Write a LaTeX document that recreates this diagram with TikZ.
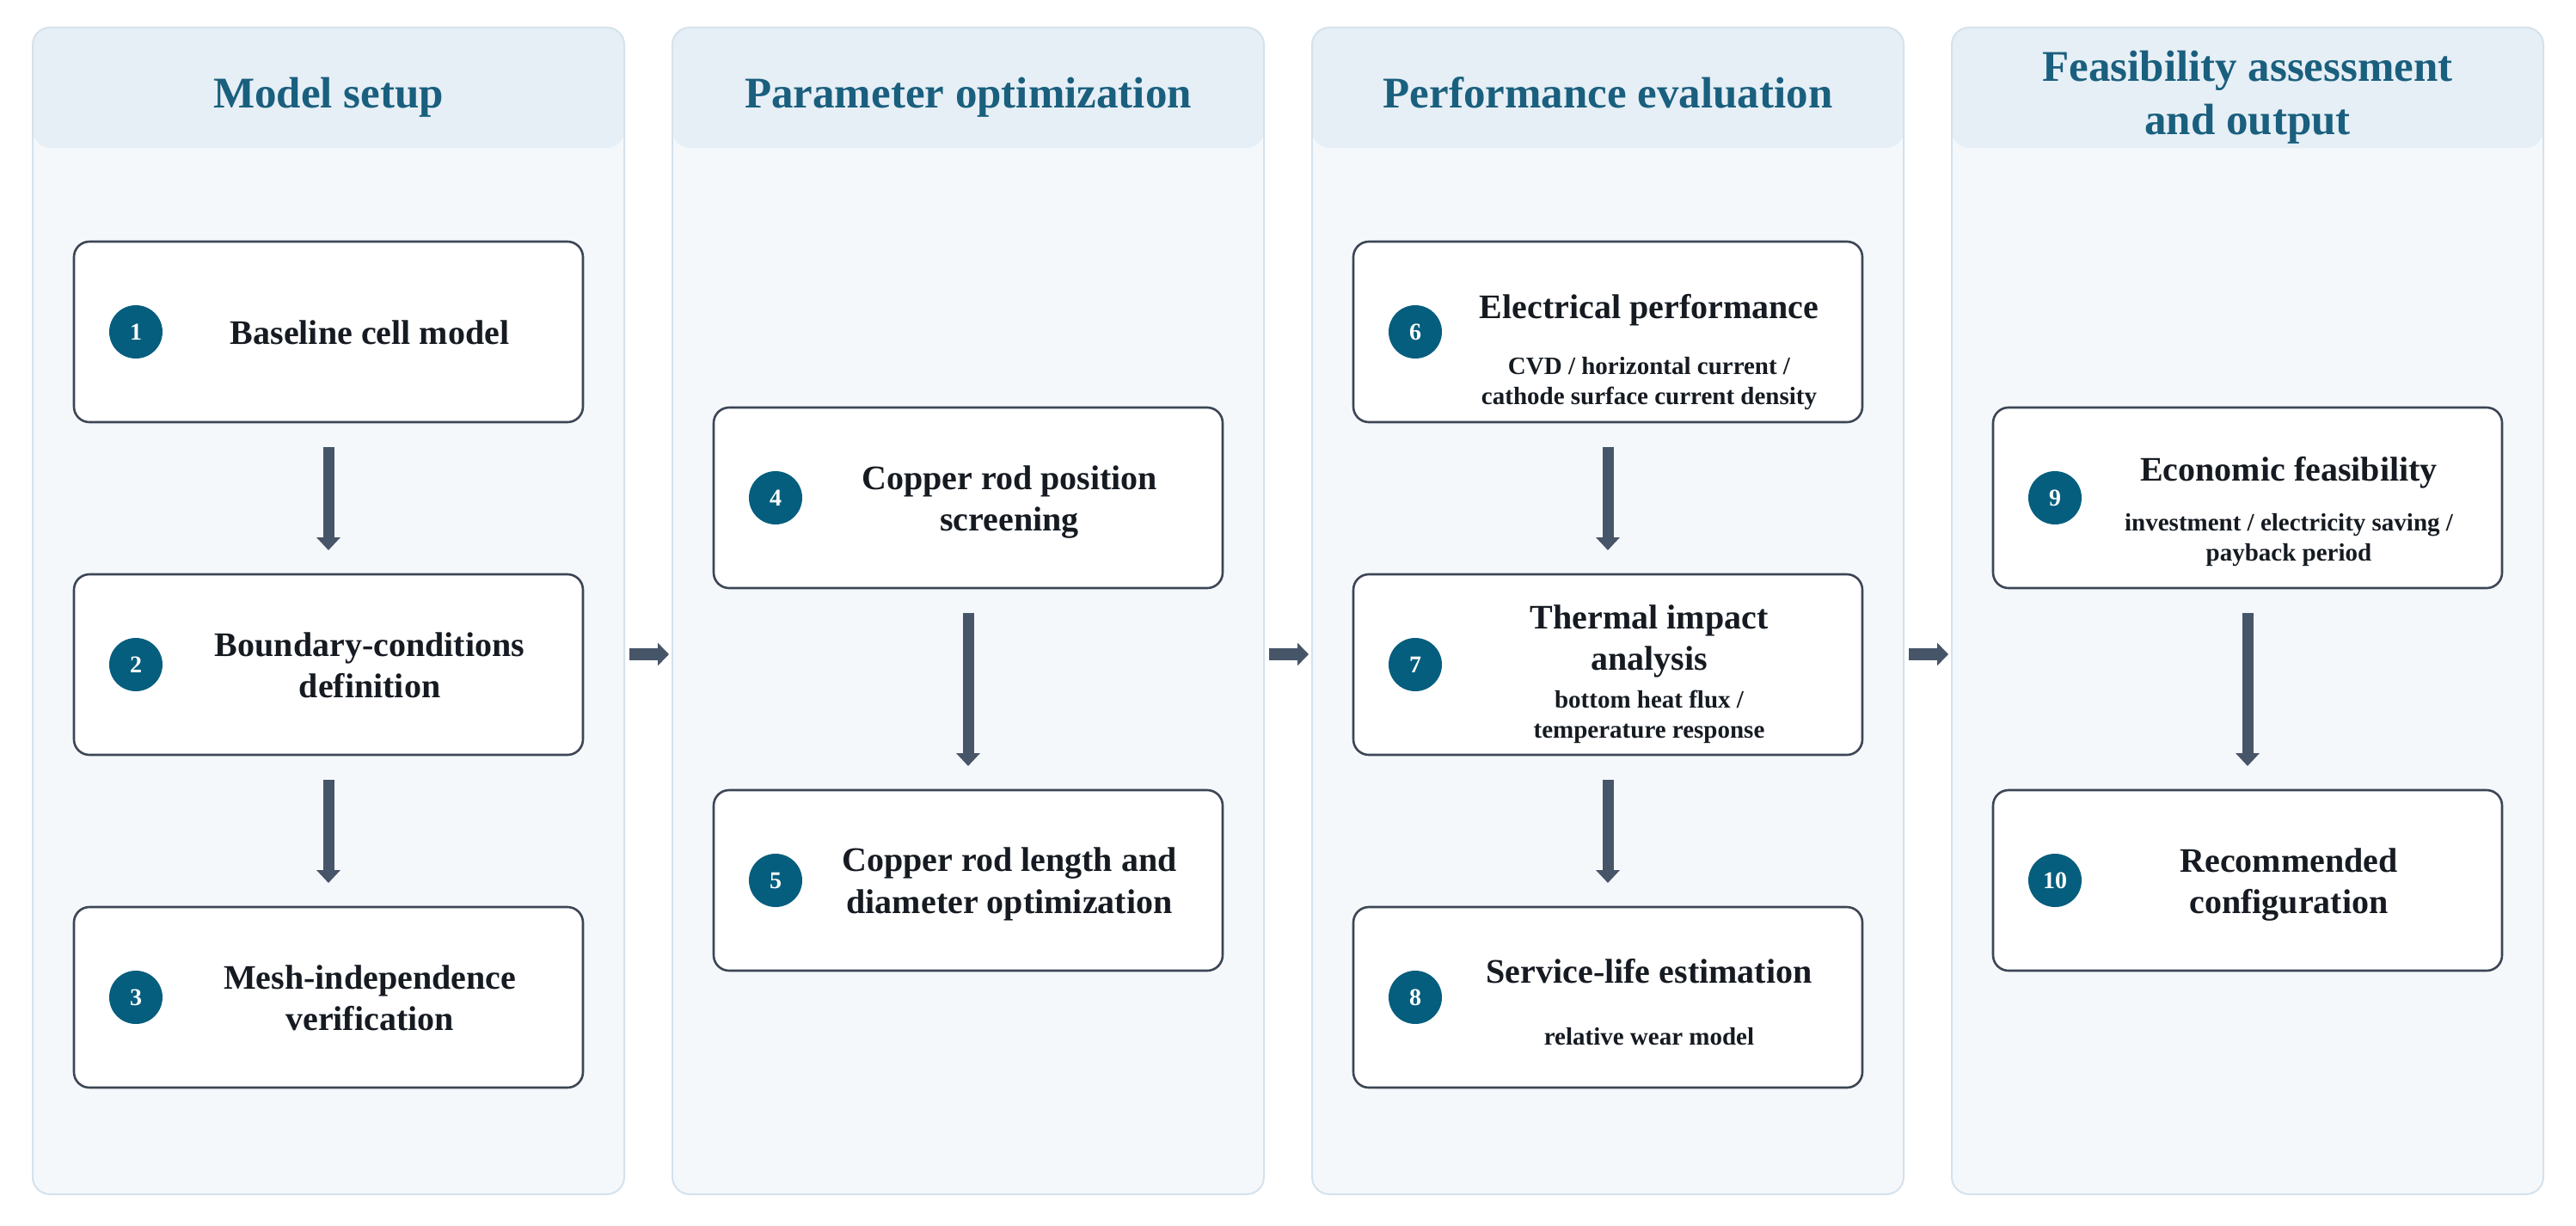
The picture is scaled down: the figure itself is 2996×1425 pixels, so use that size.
\documentclass[tikz,border=0pt]{standalone}
\usepackage{fontspec}
\setmainfont{Liberation Serif}
\usetikzlibrary{arrows.meta}
\definecolor{headtext}{HTML}{1A5F7E}
\definecolor{headfill}{HTML}{E6EFF6}
\definecolor{bodyfill}{HTML}{F5F8FB}
\definecolor{panelborder}{HTML}{D5E2EC}
\definecolor{boxborder}{HTML}{3C4655}
\definecolor{numfill}{HTML}{065E7E}
\definecolor{boxtext}{HTML}{161B22}
\definecolor{arrowc}{HTML}{475569}
\begin{document}
\begin{tikzpicture}[x=1pt,y=-1pt,
  panel/.style={draw=panelborder, line width=2pt, fill=bodyfill, rounded corners=20pt,
    minimum width=688pt, minimum height=1357pt, inner sep=0pt, outer sep=0pt,
    path picture={\fill[headfill] ([yshift=2pt]path picture bounding box.north west) rectangle ([yshift=-140pt]path picture bounding box.north east);}},
  stepbox/.style={draw=boxborder, line width=2.6pt, fill=white, rounded corners=18pt,
    minimum width=592pt, minimum height=210pt, inner sep=0pt, outer sep=0pt},
  num/.style={circle, fill=numfill, minimum size=62pt, inner sep=0pt, text=white,
    font=\fontsize{28}{28}\selectfont\bfseries},
  ttl/.style={anchor=base, text=boxtext, font=\fontsize{40}{48}\selectfont\bfseries, inner sep=0pt},
  sub/.style={anchor=base, text=boxtext, font=\fontsize{29}{35}\selectfont\bfseries, inner sep=0pt},
  head/.style={anchor=base, text=headtext, font=\fontsize{51}{60}\selectfont\bfseries, inner sep=0pt},
  varrow/.style={draw=arrowc, line width=13pt, -{Triangle[width=27pt,length=15pt]},
    shorten <=29pt, shorten >=28pt},
  harrow/.style={draw=arrowc, line width=14pt, -{Triangle[width=26pt,length=13pt]},
    shorten <=6pt, shorten >=4pt},
]
\useasboundingbox (0,0) rectangle (2996,1425);
\fill[white] (0,0) rectangle (2996,1425);

% panels
\node[panel] (p1) at (382,710.5) {};
\node[panel] (p2) at (1126,710.5) {};
\node[panel] (p3) at (1870,710.5) {};
\node[panel] (p4) at (2614,710.5) {};

% headers
\node[head] (h1) at ([yshift=-93pt]p1.north) {Model setup};
\node[head] (h2) at ([yshift=-93pt]p2.north) {Parameter optimization};
\node[head] (h3) at ([yshift=-93pt]p3.north) {Performance evaluation};
\node[head] (h4a) at ([yshift=-62pt]p4.north) {Feasibility assessment};
\node[head] (h4b) at ([yshift=-124pt]p4.north) {and output};

% boxes
\node[stepbox] (b1) at (382,386) {};
\node[stepbox] (b2) at (382,773) {};
\node[stepbox] (b3) at (382,1160) {};
\node[stepbox] (b4) at (1126,579) {};
\node[stepbox] (b5) at (1126,1024) {};
\node[stepbox] (b6) at (1870,386) {};
\node[stepbox] (b7) at (1870,773) {};
\node[stepbox] (b8) at (1870,1160) {};
\node[stepbox] (b9) at (2614,579) {};
\node[stepbox] (b10) at (2614,1024) {};

% number circles
\foreach \i in {1,...,10}{
  \node[num] (n\i) at ([xshift=72pt]b\i.west) {\i};
}

% texts
\node[ttl] (t1) at ([xshift=48pt,yshift=-14pt]b1.center) {Baseline cell model};
\node[ttl] (t2a) at ([xshift=48pt,yshift=10pt]b2.center) {Boundary-conditions};
\node[ttl] (t2b) at ([xshift=48pt,yshift=-38pt]b2.center) {definition};
\node[ttl] (t3a) at ([xshift=48pt,yshift=10pt]b3.center) {Mesh-independence};
\node[ttl] (t3b) at ([xshift=48pt,yshift=-38pt]b3.center) {verification};
\node[ttl] (t4a) at ([xshift=48pt,yshift=10pt]b4.center) {Copper rod position};
\node[ttl] (t4b) at ([xshift=48pt,yshift=-38pt]b4.center) {screening};
\node[ttl] (t5a) at ([xshift=48pt,yshift=11pt]b5.center) {Copper rod length and};
\node[ttl] (t5b) at ([xshift=48pt,yshift=-38pt]b5.center) {diameter optimization};
\node[ttl] (t6) at ([xshift=48pt,yshift=16pt]b6.center) {Electrical performance};
\node[sub] (s6a) at ([xshift=48pt,yshift=-49pt]b6.center) {CVD / horizontal current /};
\node[sub] (s6b) at ([xshift=48pt,yshift=-84pt]b6.center) {cathode surface current density};
\node[ttl] (t7a) at ([xshift=48pt,yshift=42pt]b7.center) {Thermal impact};
\node[ttl] (t7b) at ([xshift=48pt,yshift=-6pt]b7.center) {analysis};
\node[sub] (s7a) at ([xshift=48pt,yshift=-50pt]b7.center) {bottom heat flux /};
\node[sub] (s7b) at ([xshift=48pt,yshift=-85pt]b7.center) {temperature response};
\node[ttl] (t8) at ([xshift=48pt,yshift=17pt]b8.center) {Service-life estimation};
\node[sub] (s8) at ([xshift=48pt,yshift=-55pt]b8.center) {relative wear model};
\node[ttl] (t9) at ([xshift=48pt,yshift=20pt]b9.center) {Economic feasibility};
\node[sub] (s9a) at ([xshift=48pt,yshift=-38pt]b9.center) {investment / electricity saving /};
\node[sub] (s9b) at ([xshift=48pt,yshift=-73pt]b9.center) {payback period};
\node[ttl] (t10a) at ([xshift=48pt,yshift=10pt]b10.center) {Recommended};
\node[ttl] (t10b) at ([xshift=48pt,yshift=-38pt]b10.center) {configuration};

% vertical arrows
\draw[varrow] (b1.south) -- (b2.north);
\draw[varrow] (b2.south) -- (b3.north);
\draw[varrow] (b4.south) -- (b5.north);
\draw[varrow] (b6.south) -- (b7.north);
\draw[varrow] (b7.south) -- (b8.north);
\draw[varrow] (b9.south) -- (b10.north);

% horizontal arrows
\draw[harrow] ([yshift=-50.5pt]p1.east) -- ([yshift=-50.5pt]p2.west);
\draw[harrow] ([yshift=-50.5pt]p2.east) -- ([yshift=-50.5pt]p3.west);
\draw[harrow] ([yshift=-50.5pt]p3.east) -- ([yshift=-50.5pt]p4.west);
\end{tikzpicture}
\end{document}
